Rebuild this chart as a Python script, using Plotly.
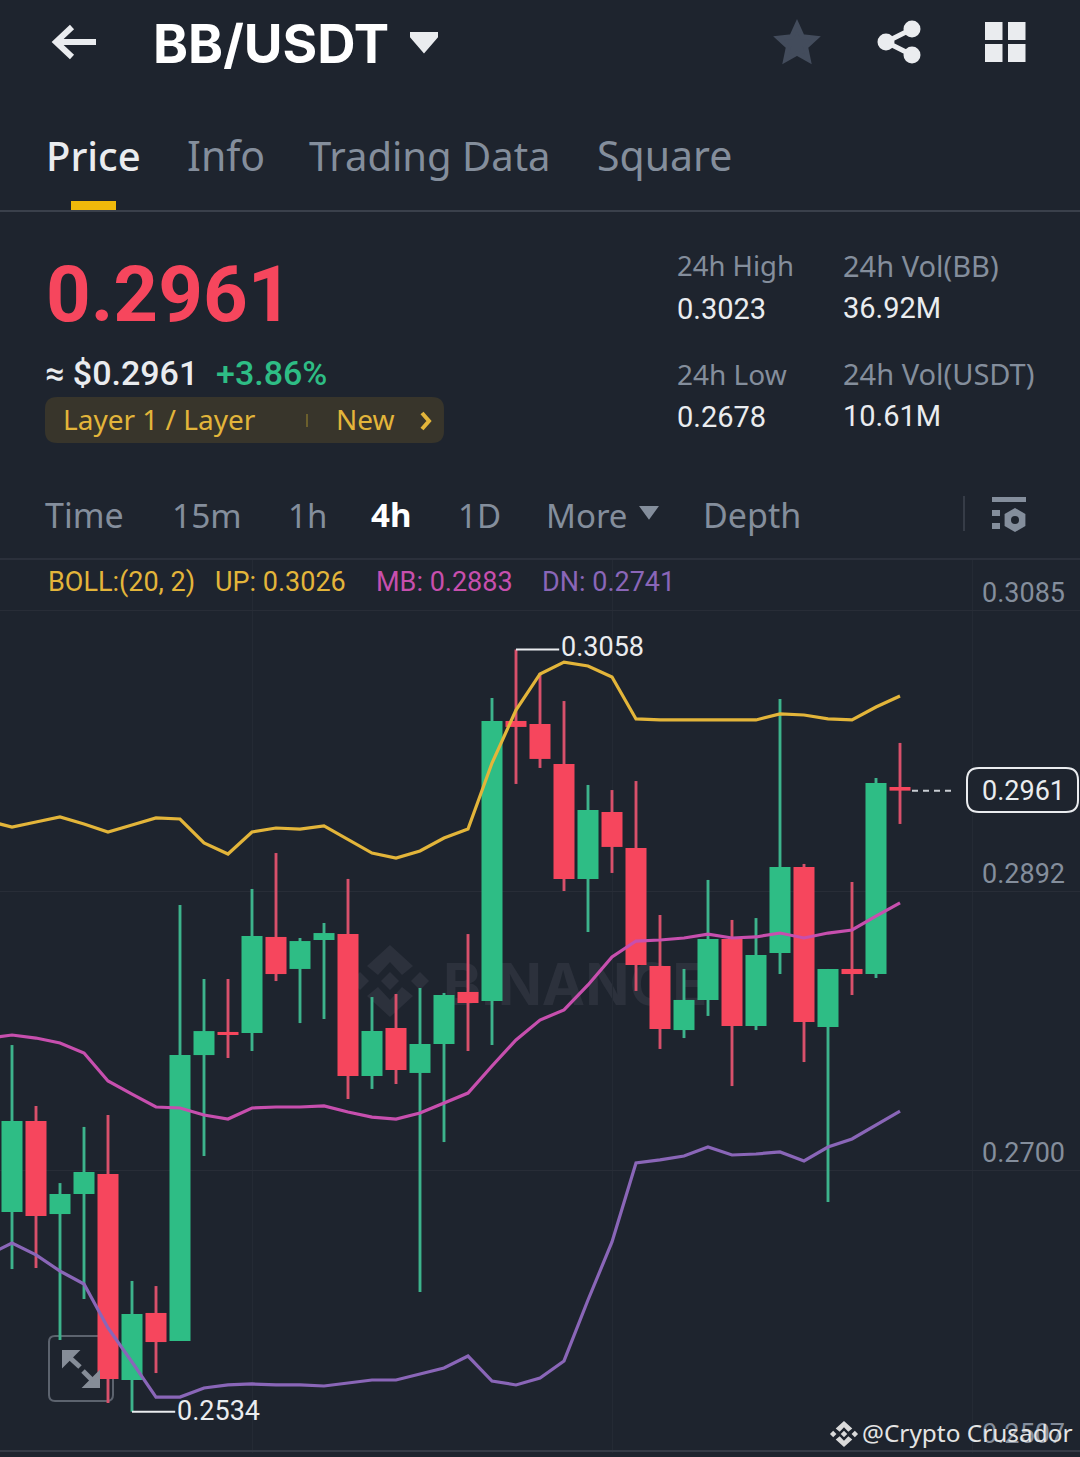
import math
import plotly.graph_objects as go

W = 1080
H = 1457

BG = '#1E242E'
GREEN = '#2EBD85'
RED = '#F6465D'
WICK_GREEN = '#3DB38C'
WICK_RED = '#D8506B'
YELLOW = '#E3B53A'
PINK = '#C74FAE'
PURPLE = '#8A66B8'
LIGHT = '#EAECEF'
GRAY = '#848E9C'
GRID = '#282D37'
GRID_V = '#242A34'
MARK = '#2C313C'
FONT = 'Noto Sans'
NUM = 'Roboto'

# candles, oldest first
candle_idx = list(range(38))
open_p = [0.26713, 0.27339, 0.26699, 0.26837, 0.26974, 0.25558, 0.26019, 0.25826, 0.27792, 0.27951,
          0.27944, 0.28604, 0.28384, 0.28583, 0.28624, 0.27648, 0.27978, 0.27669, 0.27868, 0.28226,
          0.28164, 0.30089, 0.30068, 0.29793, 0.29003, 0.29463, 0.29216, 0.28404, 0.27964, 0.28171,
          0.28590, 0.27992, 0.28494, 0.29085, 0.27985, 0.28384, 0.28349, 0.29635]
high_p = [0.27861, 0.27442, 0.26912, 0.27298, 0.27380, 0.26239, 0.26204, 0.28824, 0.28315, 0.28315,
          0.28934, 0.29181, 0.28597, 0.28700, 0.29003, 0.28191, 0.28212, 0.28253, 0.28219, 0.28624,
          0.30247, 0.30580, 0.30419, 0.30226, 0.29649, 0.29614, 0.29676, 0.28755, 0.28384, 0.28996,
          0.28721, 0.28734, 0.30240, 0.29106, 0.28384, 0.28982, 0.29697, 0.29938]
low_p = [0.26321, 0.26328, 0.25833, 0.26115, 0.25400, 0.25340, 0.25606, 0.25826, 0.27098, 0.27772,
         0.27820, 0.28301, 0.28012, 0.28040, 0.27490, 0.27559, 0.27593, 0.26163, 0.27194, 0.27820,
         0.27861, 0.29656, 0.29766, 0.28920, 0.28638, 0.29044, 0.28233, 0.27834, 0.27909, 0.28061,
         0.27579, 0.27964, 0.28349, 0.27744, 0.26782, 0.28205, 0.28322, 0.29381]
close_p = [0.27339, 0.26686, 0.26837, 0.26988, 0.25565, 0.26012, 0.25819, 0.27792, 0.27957, 0.27930,
           0.28611, 0.28349, 0.28576, 0.28631, 0.27648, 0.27957, 0.27689, 0.27868, 0.28205, 0.28150,
           0.30089, 0.30048, 0.29828, 0.29003, 0.29477, 0.29223, 0.28411, 0.27971, 0.28171, 0.28590,
           0.27992, 0.28480, 0.29085, 0.28019, 0.28384, 0.28349, 0.29662, 0.29610]

# bollinger bands start one candle before the first visible one
band_idx = [-1] + candle_idx
boll_up = [0.29401, 0.29360, 0.29394, 0.29429, 0.29381, 0.29326, 0.29374, 0.29422, 0.29415, 0.29250,
           0.29174, 0.29326, 0.29353, 0.29346, 0.29367, 0.29271, 0.29181, 0.29147, 0.29195, 0.29284,
           0.29346, 0.29800, 0.30164, 0.30412, 0.30494, 0.30467, 0.30391, 0.30103, 0.30096, 0.30096,
           0.30096, 0.30096, 0.30096, 0.30137, 0.30130, 0.30103, 0.30096, 0.30185, 0.30261]
boll_mb = [0.27909, 0.27930, 0.27909, 0.27875, 0.27806, 0.27614, 0.27524, 0.27435, 0.27428, 0.27380,
           0.27352, 0.27428, 0.27435, 0.27435, 0.27442, 0.27401, 0.27366, 0.27352, 0.27394, 0.27462,
           0.27531, 0.27717, 0.27896, 0.28033, 0.28102, 0.28274, 0.28466, 0.28576, 0.28583, 0.28597,
           0.28624, 0.28597, 0.28604, 0.28631, 0.28597, 0.28631, 0.28652, 0.28748, 0.28838]
boll_dn = [0.26418, 0.26500, 0.26418, 0.26307, 0.26218, 0.25916, 0.25682, 0.25441, 0.25441, 0.25503,
           0.25524, 0.25531, 0.25524, 0.25524, 0.25517, 0.25537, 0.25558, 0.25558, 0.25599, 0.25641,
           0.25723, 0.25551, 0.25524, 0.25572, 0.25689, 0.26108, 0.26507, 0.27050, 0.27071, 0.27098,
           0.27160, 0.27105, 0.27112, 0.27126, 0.27064, 0.27160, 0.27215, 0.27311, 0.27407]

price_ticks = [0.3085, 0.2892, 0.2700, 0.2507]
price_labels = ['0.3085', '0.2892', '0.2700', '0.2507']
time_grid = [10, 25, 40]
last_price = 0.2961
top_price = 0.3058
bottom_price = 0.2534

# one candle is 24px wide, price scale is 280px per 0.01925
# the plot area only covers the chart part of the page, the rest is paper shapes and text
CHART_TOP = 560
CHART_BOTTOM = 1453
x_range = [-0.5, 44.5]
px_per_price = 280 / 0.01925
y_range = [0.2892 - (CHART_BOTTOM - 891) / px_per_price, 0.2892 + (891 - CHART_TOP) / px_per_price]


def px(x):
    return x / W


def py(y):
    return 1 - y / H


annotations = []
shapes = []


def text(s, x, y, size, color, font=FONT, weight=400):
    annotations.append(dict(text=s, xref='paper', yref='paper', x=px(x), y=py(y), xanchor='left',
                            yanchor='middle', showarrow=False, borderpad=0,
                            font=dict(family=font, size=size, color=color, weight=weight)))


def poly(points, fill=None, line=None, width=0, layer='above', close=True):
    d = 'M ' + ' L '.join(f'{px(a):.5f},{py(b):.5f}' for a, b in points)
    if close:
        d += ' Z'
    shapes.append(dict(type='path', path=d, xref='paper', yref='paper', layer=layer,
                       fillcolor=fill if fill else 'rgba(0,0,0,0)',
                       line=dict(color=line if line else 'rgba(0,0,0,0)', width=width)))


def round_rect(x0, y0, x1, y1, r, fill=None, line=None, width=0, layer='above'):
    pts = [(x0 + r, y0), (x1 - r, y0), (x1, y0), (x1, y0 + r), (x1, y1 - r), (x1, y1), (x1 - r, y1),
           (x0 + r, y1), (x0, y1), (x0, y1 - r), (x0, y0 + r), (x0, y0), (x0 + r, y0)]
    c = [f'{px(a):.5f},{py(b):.5f}' for a, b in pts]
    d = (f'M {c[0]} L {c[1]} Q {c[2]} {c[3]} L {c[4]} Q {c[5]} {c[6]} L {c[7]} '
         f'Q {c[8]} {c[9]} L {c[10]} Q {c[11]} {c[12]} Z')
    shapes.append(dict(type='path', path=d, xref='paper', yref='paper', layer=layer,
                       fillcolor=fill if fill else 'rgba(0,0,0,0)',
                       line=dict(color=line if line else 'rgba(0,0,0,0)', width=width)))


def circle(cx, cy, r, fill):
    shapes.append(dict(type='circle', xref='paper', yref='paper', x0=px(cx - r), x1=px(cx + r),
                       y0=py(cy + r), y1=py(cy - r), fillcolor=fill, line=dict(width=0)))


def hline(x0, x1, y, color, width=2, layer='above'):
    poly([(x0, y), (x1, y)], line=color, width=width, layer=layer, close=False)


def logo(cx, cy, k, color, layer):
    top = [(0, -36), (23, -15), (12, -6), (0, -19), (-12, -6), (-23, -15)]
    poly([(cx + a * k, cy + b * k) for a, b in top], fill=color, layer=layer)
    poly([(cx + a * k, cy - b * k) for a, b in top], fill=color, layer=layer)
    for off in [-30, 0, 30]:
        poly([(cx + off * k, cy - 9 * k), (cx + (off + 9) * k, cy), (cx + off * k, cy + 9 * k),
              (cx + (off - 9) * k, cy)], fill=color, layer=layer)


# header
poly([(96, 42), (56, 42)], line=LIGHT, width=6, close=False)
poly([(72, 27), (56, 42), (72, 57)], line=LIGHT, width=6, close=False)
text('BB/USDT', 152, 44, 53, '#FFFFFF', 'Inter', 700)
poly([(411, 33), (437, 33), (437, 37), (424, 52), (411, 37)], fill=LIGHT, line=LIGHT, width=2)
star = []
for i in range(10):
    r = 19 if i % 2 == 0 else 9
    a = math.radians(-90 + 36 * i)
    star.append((797 + r * math.cos(a), 44 + r * math.sin(a)))
poly(star, fill='#434C5C', line='#434C5C', width=5)
poly([(912, 29), (886, 42), (912, 55)], line=LIGHT, width=5, close=False)
circle(912, 29, 8.5, LIGHT)
circle(886, 42, 8.5, LIGHT)
circle(912, 55, 8.5, LIGHT)
for sx, sy in [(985, 22), (1008, 22), (985, 44), (1008, 44)]:
    poly([(sx, sy), (sx + 17.5, sy), (sx + 17.5, sy + 18), (sx, sy + 18)], fill=LIGHT)

# tabs
text('Price', 45, 155, 40, LIGHT, 'Noto Sans', 500)
text('Info', 186, 155, 41, GRAY)
text('Trading Data', 308, 155, 40, GRAY)
text('Square', 596, 155, 41, GRAY)
poly([(71, 201), (116, 201), (116, 210), (71, 210)], fill='#F0B90B')
hline(0, W, 211, '#3A404B')

# price block
text('0.2961', 45, 294, 78, RED, NUM, 700)
text('≈ $0.2961', 44, 373, 34, LIGHT, NUM, 500)
text('+3.86%', 215, 373, 34, GREEN, NUM, 500)
round_rect(45, 397, 444, 443, 12, fill='#38352B')
text('Layer 1 / Layer', 62, 419, 28, YELLOW)
poly([(307, 414), (307, 427)], line='#6B5F2C', width=2, close=False)
text('New', 335, 419, 28, YELLOW)
poly([(422, 413), (429, 421), (422, 429)], line=YELLOW, width=4, close=False)

text('24h High', 676, 265, 27.5, GRAY)
text('0.3023', 676, 309, 29, LIGHT, NUM)
text('24h Vol(BB)', 842, 265, 29, GRAY)
text('36.92M', 842, 308, 29, LIGHT, NUM)
text('24h Low', 676, 374, 28, GRAY)
text('0.2678', 676, 417, 29, LIGHT, NUM)
text('24h Vol(USDT)', 842, 373, 29, GRAY)
text('10.61M', 842, 416, 29, LIGHT, NUM)

# interval row
text('Time', 44, 515, 34, GRAY)
text('15m', 171, 515, 33.5, GRAY)
text('1h', 287, 515, 33, GRAY)
text('4h', 370, 514, 33, '#FFFFFF', 'Noto Sans', 700)
text('1D', 457, 515, 33, GRAY)
text('More', 545, 515, 33, GRAY)
poly([(641, 507), (657, 507), (649, 518)], fill=GRAY, line=GRAY, width=2)
text('Depth', 702, 515, 34, GRAY)
poly([(964, 496), (964, 531)], line='#363C47', width=2, close=False)
poly([(992, 497), (1026, 497), (1026, 502), (992, 502)], fill=GRAY)
poly([(992, 510), (1000, 510), (1000, 516), (992, 516)], fill=GRAY)
poly([(992, 523), (1000, 523), (1000, 529), (992, 529)], fill=GRAY)
hexagon = []
for i in range(6):
    a = math.radians(-90 + 60 * i)
    hexagon.append((1015 + 12 * math.cos(a), 520 + 12 * math.sin(a)))
poly(hexagon, fill=GRAY)
circle(1015, 520, 4, BG)
hline(0, W, 559, '#2B303B')

# indicator legend
text('BOLL:(20, 2)', 47, 582, 27, YELLOW, NUM)
text('UP: 0.3026', 214, 582, 27, YELLOW, NUM)
text('MB: 0.2883', 375, 582, 27, PINK, NUM)
text('DN: 0.2741', 541, 582, 27, PURPLE, NUM)

# price axis labels sit just above their grid lines
for val, lab in zip(price_ticks, price_labels):
    annotations.append(dict(text=lab, xref='paper', yref='y', x=px(981), y=val, xanchor='left',
                            yanchor='bottom', showarrow=False, borderpad=0,
                            font=dict(family=NUM, size=27, color=GRAY)))

# watermark under the candles
logo(390, 981, 1, MARK, 'below')
shapes.append(dict(type='rect', xref='paper', yref='paper', x0=px(440), x1=px(800), y0=py(1012), y1=py(952),
                   layer='below', line=dict(width=0), fillcolor='rgba(0,0,0,0)',
                   label=dict(text='BINANCE', textposition='middle left', padding=0,
                              font=dict(family='Inter', size=58, color=MARK, weight=700))))

# high / low callouts
shapes.append(dict(type='line', x0=21, x1=22.8, y0=top_price, y1=top_price, xref='x', yref='y',
                   line=dict(color=LIGHT, width=2)))
annotations.append(dict(text=f'{top_price:.4f}', x=22.8, y=top_price, xref='x', yref='y', xanchor='left',
                        yanchor='middle', xshift=1, yshift=3, showarrow=False, borderpad=0,
                        font=dict(family=NUM, size=27, color=LIGHT)))
shapes.append(dict(type='line', x0=5, x1=6.8, y0=bottom_price, y1=bottom_price, xref='x', yref='y',
                   line=dict(color=LIGHT, width=2)))
annotations.append(dict(text=f'{bottom_price:.4f}', x=6.8, y=bottom_price, xref='x', yref='y', xanchor='left',
                        yanchor='middle', xshift=1, yshift=1, showarrow=False, borderpad=0,
                        font=dict(family=NUM, size=27, color=LIGHT)))

# last price tag
shapes.append(dict(type='line', x0=37.5, x1=39.2, y0=last_price, y1=last_price, xref='x', yref='y',
                   line=dict(color='#C9CDD3', width=2, dash='6px,5px')))
round_rect(967, 768, 1078, 812, 12, fill=BG, line=LIGHT, width=2)
text(f'{last_price:.4f}', 981, 791, 27, LIGHT, NUM)

# expand button
round_rect(49, 1336, 113, 1401, 6, line='#5C636E', width=2, layer='below')
poly([(63, 1351), (78, 1351), (63, 1366)], fill='#868D98', line='#868D98', width=2)
poly([(68, 1356), (80, 1367)], line='#868D98', width=5, close=False)
poly([(99, 1387), (84, 1387), (99, 1372)], fill='#868D98', line='#868D98', width=2)
poly([(94, 1382), (83, 1371)], line='#868D98', width=5, close=False)

# bottom line and repost mark
hline(0, W, 1451, '#353B46')
logo(844, 1434, 0.36, '#DADADA', 'above')
text('@Crypto Crusador', 861, 1432, 24.4, '#E4E4E4', 'Noto Sans')

body_colors = [GREEN if c >= o else RED for o, c in zip(open_p, close_p)]
wick_colors = [WICK_GREEN if c >= o else WICK_RED for o, c in zip(open_p, close_p)]
body_base = [min(o, c) for o, c in zip(open_p, close_p)]
body_size = [abs(c - o) for o, c in zip(open_p, close_p)]
wick_size = [h - l for h, l in zip(high_p, low_p)]

fig = go.Figure()
fig.add_trace(go.Bar(x=candle_idx, y=wick_size, base=low_p, width=0.12,
                     marker=dict(color=wick_colors, line=dict(width=0))))
fig.add_trace(go.Bar(x=candle_idx, y=body_size, base=body_base, width=0.875,
                     marker=dict(color=body_colors, line=dict(width=0))))
fig.add_trace(go.Scatter(x=band_idx, y=boll_up, mode='lines', line=dict(color=YELLOW, width=3.2)))
fig.add_trace(go.Scatter(x=band_idx, y=boll_mb, mode='lines', line=dict(color=PINK, width=3.2)))
fig.add_trace(go.Scatter(x=band_idx, y=boll_dn, mode='lines', line=dict(color=PURPLE, width=3.2)))

fig.update_layout(width=W, height=H, margin=dict(l=0, r=0, t=0, b=0), paper_bgcolor=BG, plot_bgcolor=BG,
                  showlegend=False, barmode='overlay', annotations=annotations, shapes=shapes)
fig.update_xaxes(range=x_range, tickvals=time_grid, showticklabels=False, showgrid=True, gridcolor=GRID_V,
                 gridwidth=1, zeroline=False, showline=False, ticks='')
fig.update_yaxes(range=y_range, domain=[py(CHART_BOTTOM), py(CHART_TOP)], tickvals=price_ticks,
                 showticklabels=False, showgrid=True, gridcolor=GRID,
                 gridwidth=1, zeroline=False, showline=False, ticks='')

fig.write_html('out.html', config={'displayModeBar': False},
               post_script="document.body.style.margin='0';document.body.style.overflow='hidden';")
